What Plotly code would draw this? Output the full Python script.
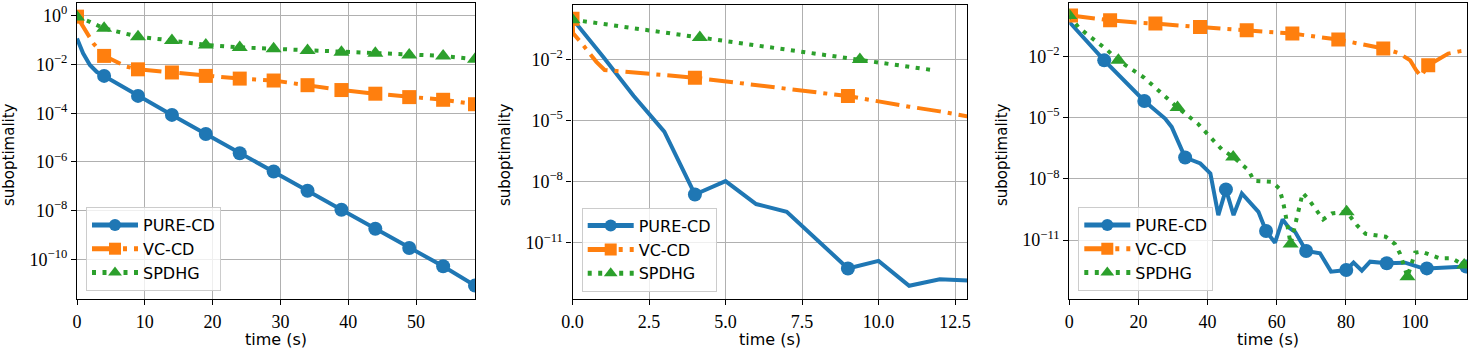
import plotly.graph_objects as go

# ---------------- Panel 1 ----------------
p1_pure_t = [0, 0.9, 1.9, 2.9, 4, 9, 14, 19, 24, 29, 34, 39, 44, 49, 54, 58.7]
p1_pure_y = [1.17e-1, 2.88e-2, 9.55e-3, 5.0e-3, 3.39e-3, 5.13e-4, 8.51e-5, 1.41e-5, 2.29e-6,
             4.07e-7, 6.61e-8, 1.10e-8, 1.82e-9, 2.95e-10, 5.25e-11, 8.51e-12]
p1_vc_t = [0, 1.4, 2.4, 4, 7.3, 9, 14, 19, 24, 29, 34, 39, 44, 49, 54, 58.7]
p1_vc_y = [9.12e-1, 2.19e-1, 7.41e-2, 2.24e-2, 8.13e-3, 6.31e-3, 4.68e-3, 3.39e-3, 2.63e-3,
           2.19e-3, 1.41e-3, 8.91e-4, 6.31e-4, 4.57e-4, 3.55e-4, 2.34e-4]
p1_sp_t = [0, 1.9, 4, 9, 14, 19, 24, 29, 34, 39, 44, 49, 54, 58.7]
p1_sp_y = [8.91e-1, 5.62e-1, 3.02e-1, 1.38e-1, 9.55e-2, 6.31e-2, 5.01e-2, 4.37e-2, 3.72e-2,
           3.16e-2, 2.88e-2, 2.45e-2, 2.24e-2, 1.62e-2]

# ---------------- Panel 2 ----------------
p2_pure_t = [0, 1, 2, 3, 4, 5, 6, 7, 9, 10, 11, 12, 13]
p2_pure_y = [9.55e-1, 1.35e-2, 1.58e-4, 2.82e-6, 2.34e-9, 1.07e-8, 7.94e-10, 3.31e-10,
             5.5e-13, 1.29e-12, 7.76e-14, 1.62e-13, 1.41e-13]
p2_vc_t = [0, 0.02, 0.3, 0.78, 1.05, 4, 9, 10, 11, 12, 13]
p2_vc_y = [1.0, 1.91e-1, 6.17e-2, 7.59e-3, 3.02e-3, 1.26e-3, 1.58e-4, 8.32e-5, 4.79e-5,
           2.82e-5, 1.51e-5]
p2_sp_t = [0, 4.16, 9.39, 11.8]
p2_sp_y = [8.91e-1, 1.2e-1, 1.0e-2, 2.95e-3]

# ---------------- Panel 3 ----------------
p3_pure_t = [0, 10.1, 21.7, 27.7, 29.6, 32.0, 33.5, 37.9, 40.8, 43.1, 45.3, 47.5, 49.9, 54.7,
             56.9, 59.5, 61.7, 63.4, 65.3, 68.5, 72.5, 75.7, 80.1, 82.2, 84.6, 87.0, 91.8,
             97.1, 101.4, 103.4, 113.5, 114.8]
p3_pure_y = [4.79e-1, 6.31e-3, 6.46e-5, 8.91e-6, 3.47e-6, 3.63e-7, 1.10e-7, 5.62e-8, 1.82e-8,
             1.66e-10, 3.02e-9, 1.66e-10, 1.91e-9, 2.40e-10, 2.75e-11, 7.41e-12, 1.02e-10,
             4.17e-11, 2.51e-11, 2.88e-12, 2.24e-12, 2.82e-13, 3.39e-13, 7.76e-13, 3.16e-13,
             8.71e-13, 7.24e-13, 7.76e-13, 4.57e-13, 4.07e-13, 4.57e-13, 5.01e-13]
p3_vc_t = [0.5, 11.8, 20.9, 24.9, 37.8, 51.3, 64.5, 77.8, 90.8, 95.2, 98.6, 100.3, 101.7,
           103.8, 109.6, 112.8, 115.5]
p3_vc_y = [1.0, 5.75e-1, 4.27e-1, 3.98e-1, 2.69e-1, 1.86e-1, 1.29e-1, 6.61e-2, 2.40e-2,
           1.45e-2, 6.31e-3, 2.09e-3, 1.05e-3, 3.63e-3, 1.35e-2, 1.74e-2, 2.0e-2]
p3_sp_t = [0, 2.6, 5.5, 10.8, 14.2, 21.6, 31.3, 37.1, 44.1, 47.4, 51.8, 53.4, 58.5, 60.7,
           61.7, 62.4, 64.0, 65.8, 67.5, 69.4, 71.4, 73.4, 75.9, 80.2, 83.3, 85.7, 91.5,
           94.2, 95.7, 97.8, 100.0, 101.9, 107.2, 110.6, 114.2]
p3_sp_y = [1.0, 2.69e-1, 1.07e-1, 2.14e-2, 6.31e-3, 9.12e-4, 3.09e-5, 5.13e-6, 2.75e-7,
           1.17e-7, 2.63e-8, 7.94e-9, 7.08e-9, 3.39e-9, 8.91e-10, 2.40e-10, 6.31e-12,
           1.38e-10, 2.04e-9, 8.91e-10, 3.16e-10, 1.02e-10, 2.0e-10, 2.40e-10, 5.01e-11,
           2.0e-11, 1.45e-11, 6.31e-12, 2.04e-12, 1.58e-13, 2.40e-12, 2.69e-12, 1.26e-12,
           1.26e-12, 5.89e-13]

series_names = ["PURE-CD", "VC-CD", "SPDHG"]

x_ticks = [[0, 10, 20, 30, 40, 50],
           [0, 2.5, 5, 7.5, 10, 12.5],
           [0, 20, 40, 60, 80, 100]]
x_ticktext = [["0", "10", "20", "30", "40", "50"],
              ["0.0", "2.5", "5.0", "7.5", "10.0", "12.5"],
              ["0", "20", "40", "60", "80", "100"]]
y_exps = [[0, -2, -4, -6, -8, -10],
          [-2, -5, -8, -11],
          [-2, -5, -8, -11]]

BLUE, ORANGE, GREEN = "#1f77b4", "#ff7f0e", "#2ca02c"
W, H = 1469, 350

fig = go.Figure()


def add(t, y, name, color, dash, symbol, marks, k):
    sizes = [14 if i in marks else 0 for i in range(len(t))]
    sfx = "" if k == 1 else str(k)
    fig.add_trace(go.Scatter(
        x=t, y=y, mode="lines+markers", name=name,
        line=dict(color=color, width=4, dash=dash),
        marker=dict(symbol=symbol, size=sizes, color=color, opacity=1,
                    line=dict(width=0)),
        xaxis="x" + sfx, yaxis="y" + sfx, legend="legend" + sfx,
    ))


DASHDOT = "24px,7px,4px,7px"
DOT = "4px,6.5px"

add(p1_pure_t, p1_pure_y, series_names[0], BLUE, "solid", "circle", set(range(4, 16)), 1)
add(p1_vc_t, p1_vc_y, series_names[1], ORANGE, DASHDOT, "square", {0, 3} | set(range(5, 16)), 1)
add(p1_sp_t, p1_sp_y, series_names[2], GREEN, DOT, "triangle-up", {0} | set(range(2, 14)), 1)

add(p2_pure_t, p2_pure_y, series_names[0], BLUE, "solid", "circle", {4, 8}, 2)
add(p2_vc_t, p2_vc_y, series_names[1], ORANGE, DASHDOT, "square", {0, 5, 6}, 2)
add(p2_sp_t, p2_sp_y, series_names[2], GREEN, DOT, "triangle-up", {0, 1, 2}, 2)

add(p3_pure_t, p3_pure_y, series_names[0], BLUE, "solid", "circle", {1, 2, 6, 10, 14, 19, 22, 26, 29, 31}, 3)
add(p3_vc_t, p3_vc_y, series_names[1], ORANGE, DASHDOT, "square", {0, 1, 3, 4, 5, 6, 7, 8, 13}, 3)
add(p3_sp_t, p3_sp_y, series_names[2], GREEN, DOT, "triangle-up", {0, 4, 6, 9, 16, 23, 29, 34}, 3)

panels = [
    dict(x0=77, x1=475, top=3, xr=[0, 58.7], yr=[-11.62, 0.52], leg=(86, 207), ylab=9),
    dict(x0=572.5, x1=967.3, top=5, xr=[0, 12.9], yr=[-13.76, 0.67], leg=(581.7, 207.7), ylab=505),
    dict(x0=1069.3, x1=1467.3, top=3, xr=[0, 115.1], yr=[-13.89, 0.61], leg=(1078.3, 207), ylab=1002),
]
bottom = 299

TICKFONT = dict(family="Liberation Serif", size=18, color="black")
SANS = "DejaVu Sans"
layout = dict(
    width=W, height=H, margin=dict(l=0, r=0, t=0, b=0, autoexpand=False),
    plot_bgcolor="white", paper_bgcolor="white", showlegend=True,
)
annotations = []
for i, p in enumerate(panels):
    k = i + 1
    sfx = "" if k == 1 else str(k)
    common = dict(showline=True, linecolor="black", linewidth=1.2, mirror=True,
                  showgrid=True, gridcolor="#b0b0b0", gridwidth=0.8, zeroline=False,
                  ticks="outside", ticklen=5, tickwidth=1, tickcolor="black",
                  tickfont=TICKFONT, automargin=False)
    layout["xaxis" + sfx] = dict(
        domain=[p["x0"] / W, p["x1"] / W], range=p["xr"], anchor="y" + sfx,
        tickmode="array", tickvals=x_ticks[i], ticktext=x_ticktext[i],
        ticklabelstandoff=1, **common)
    layout["yaxis" + sfx] = dict(
        domain=[1 - bottom / H, 1 - p["top"] / H], range=p["yr"], type="log",
        anchor="x" + sfx, tickmode="array",
        tickvals=[10.0 ** e for e in y_exps[i]],
        ticktext=["10<sup>" + str(e).replace("-", "−") + "</sup>" for e in y_exps[i]],
        **common)
    layout["legend" + sfx] = dict(
        x=p["leg"][0] / W, y=1 - p["leg"][1] / H, xanchor="left", yanchor="top",
        bgcolor="rgba(255,255,255,0.8)", bordercolor="#cccccc", borderwidth=1,
        font=dict(family=SANS, size=16, color="black"), itemsizing="constant",
        itemwidth=46, tracegroupgap=0)
    annotations.append(dict(
        text="time (s)", xref="paper", yref="paper",
        x=(p["x0"] + p["x1"]) / 2 / W, y=1 - 339 / H, xanchor="center", yanchor="middle",
        showarrow=False, font=dict(family=SANS, size=16, color="black")))
    annotations.append(dict(
        text="suboptimality", xref="paper", yref="paper", textangle=-90,
        x=p["ylab"] / W, y=1 - 155 / H, xanchor="center", yanchor="middle",
        showarrow=False, font=dict(family=SANS, size=15, color="black")))
layout["annotations"] = annotations
fig.update_layout(**layout)

fig.write_html(
    "out.html",
    config={"displayModeBar": False},
    post_script="document.body.style.margin='0';document.body.style.overflow='hidden';",
)
